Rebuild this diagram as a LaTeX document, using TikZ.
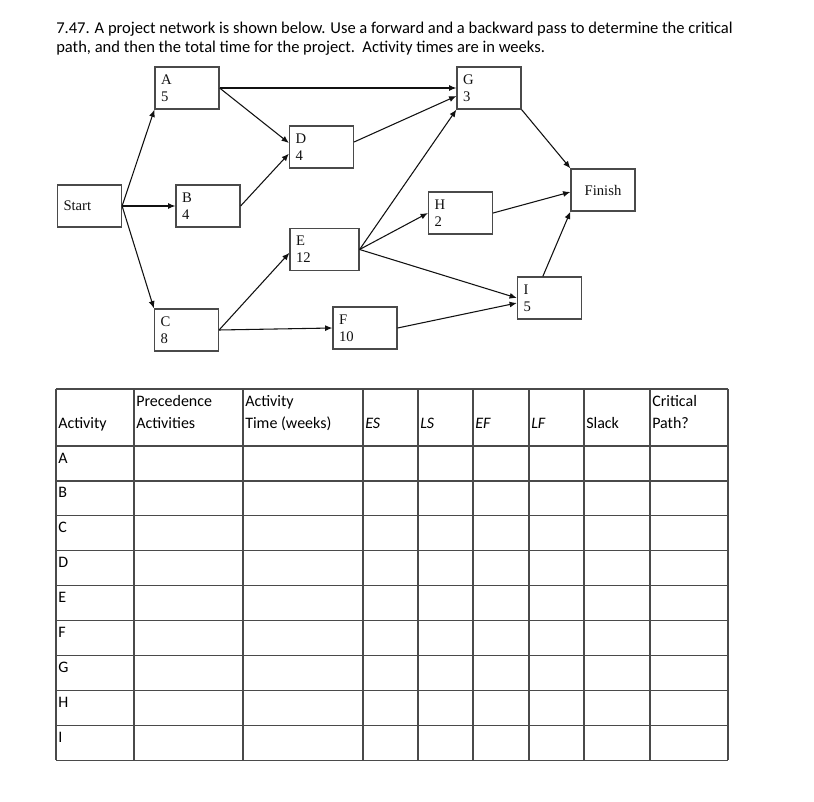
\documentclass[tikz,border=0pt]{standalone}
\usepackage{fontspec}
\setmainfont{Carlito}
\newfontfamily\boxfont{Liberation Serif}
\usetikzlibrary{positioning,calc,arrows.meta}
\definecolor{Ink}{HTML}{111111}
\definecolor{Rule}{HTML}{4A4A4A}

\begin{document}
\begin{tikzpicture}[x=0.75pt,y=-0.75pt,
    act/.style={draw=Rule,line width=0.9pt,rectangle,inner xsep=4.5pt,inner ysep=0pt,
      text width=39pt,minimum height=31.5pt,align=left,text=Ink,
      font=\boxfont\fontsize{11}{12.75}\selectfont},
    link/.style={draw=Ink,line width=0.8pt,-{Latex[length=5.5pt,width=4.5pt]}},
    grid/.style={draw=Rule,line width=0.9pt},
    cell/.style={anchor=base west,inner sep=0pt,font=\fontsize{12}{14}\selectfont}]
  \useasboundingbox (0,0) rectangle (814,802);

  % question
  \node[cell,font=\fontsize{12.4}{14}\selectfont] (q1) at (56,34) {7.47. A project network is shown below. Use a forward and a backward pass to determine the critical};
  \node[cell,font=\fontsize{12.4}{14}\selectfont] (q2) at (56,53) {path, and then the total time for the project.\ \ Activity times are in weeks.};

  % network
  \node[act] (start) at (89.5,206) {Start};
  \node[act] (a) at (187,88) {A\\5};
  \node[act] (b) at (208,206) {B\\4};
  \node[act] (c) at (186.5,330) {C\\8};
  \node[act] (d) at (321.5,147) {D\\4};
  \node[act,text width=42.75pt] (e) at (324.5,249.5) {E\\12};
  \node[act] (f) at (365,328) {F\\10};
  \node[act] (g) at (489,88) {G\\3};
  \node[act] (h) at (460.5,213) {H\\2};
  \node[act] (i) at (549.5,298) {I\\5};
  \node[act,align=center] (finish) at (603,190) {Finish};

  \draw[link] (start.east) -- (a.south west);
  \draw[link] (start.east) -- (b.west);
  \draw[link] (start.east) -- (c.north west);
  \draw[link] (a.east) -- (g.west);
  \draw[link] (a.east) -- ([yshift=3pt]d.west);
  \draw[link] (b.east) -- ([yshift=-5pt]d.west);
  \draw[link] ([yshift=3.75pt]d.east) -- ([yshift=-6pt]g.west);
  \draw[link] (e.east) -- (g.south west);
  \draw[link] (e.east) -- (h.west);
  \draw[link] (e.east) -- (i.west);
  \draw[link] (c.east) -- ([yshift=-2.5pt]e.west);
  \draw[link] (c.east) -- (f.west);
  \draw[link] (f.east) -- ([yshift=-3.75pt]i.west);
  \draw[link] (g.south east) -- (finish.north west);
  \draw[link] (h.east) -- ([yshift=-1.5pt]finish.west);
  \draw[link] ([xshift=-5pt]i.north) -- (finish.south west);

  % table
  \foreach \x in {56,134,243,363,418,473,529,584,650,728}
    \draw[grid] (\x,389) -- (\x,760);
  \draw[grid] (56,389) -- (728,389);
  \foreach \k in {0,...,9}
    \draw[grid] (56,446+34.9*\k) -- (728,446+34.9*\k);

  \foreach \name/\x/\y/\txt in {h1/58/428/Activity,h2/136/406/Precedence,h3/136/428/Activities,
      h4/245/406/Activity,h5/245/428/Time (weeks),h6/365/428/\textit{ES},h7/420/428/\textit{LS},
      h8/475/428/\textit{EF},h9/531/428/\textit{LF},h10/586/428/Slack,h11/652/406/Critical,h12/652/428/Path?}
    \node[cell] (\name) at (\x,\y) {\txt};

  \foreach \l [count=\k from 0] in {A,B,C,D,E,F,G,H,I}
    \node[cell] (row\l) at (58,463+34.9*\k) {\l};
\end{tikzpicture}
\end{document}
